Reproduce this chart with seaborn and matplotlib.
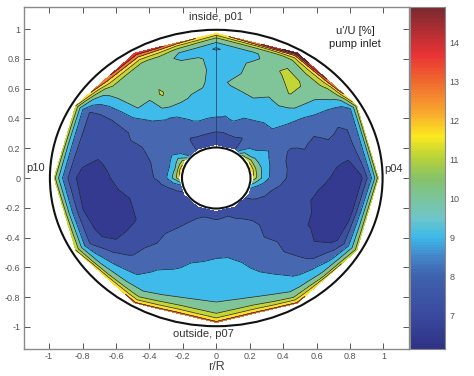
import numpy as np
import matplotlib
matplotlib.use("Agg")
import matplotlib.pyplot as plt
from matplotlib.patches import Circle
from matplotlib.colors import ListedColormap, BoundaryNorm, LinearSegmentedColormap
import seaborn as sns

sns.set_style("white")
plt.rcParams['font.family'] = ['Liberation Sans', 'DejaVu Sans']
plt.rcParams['axes.unicode_minus'] = False

# radial stations (vertex radius) and u'/U readings per ray, clockwise from top
rings = [.225, .26, .30, .35, .42, .50, .58, .66, .74, .82, .87, .90, .925, .95, .97]
ray_000 = [7.2, 7.2, 7.4, 7.9, 8.6, 8.8, 9.0, 9.1, 9.1, 9.2, 8.3, 9.3, 9.8, 10.9, 11.9]
ray_008 = [7.2, 7.2, 7.35, 7.8, 8.45, 8.8, 9.1, 9.6, 9.2, 9.2, 9.2, 9.35, 9.9, 11.0, 12.4]
ray_015 = [7.2, 7.3, 7.4, 8.0, 8.6, 9.0, 9.3, 9.7, 9.7, 9.6, 9.3, 9.4, 10.0, 11.2, 13.0]
ray_022 = [7.3, 7.4, 7.45, 8.1, 8.3, 8.9, 9.4, 9.9, 10.0, 9.8, 9.8, 9.8, 10.2, 11.6, 14.0]
ray_030 = [7.4, 7.4, 7.45, 7.7, 8.4, 8.7, 9.2, 9.7, 10.0, 10.8, 10.3, 10.2, 10.8, 12.4, 14.8]
ray_038 = [8.8, 8.1, 8.0, 8.0, 8.2, 8.6, 9.2, 9.7, 10.6, 10.7, 10.2, 10.4, 10.9, 12.0, 14.0]
ray_045 = [10.5, 9.0, 8.4, 8.0, 8.0, 8.6, 9.0, 9.4, 9.7, 9.9, 10.1, 10.3, 10.8, 11.6, 13.2]
ray_052 = [10.8, 9.2, 8.6, 8.2, 8.0, 8.0, 8.2, 8.4, 8.7, 9.0, 9.4, 9.6, 10.0, 11.0, 12.4]
ray_060 = [11.2, 9.6, 9.0, 8.6, 8.0, 7.9, 7.9, 7.8, 7.8, 7.7, 7.7, 7.9, 8.4, 9.6, 10.9]
ray_068 = [11.6, 9.9, 9.1, 8.5, 7.7, 7.4, 7.6, 7.3, 7.6, 7.4, 7.5, 7.8, 8.4, 9.5, 10.9]
ray_075 = [11.8, 10.2, 9.2, 8.4, 7.6, 7.3, 7.3, 7.2, 7.1, 7.2, 7.4, 7.8, 8.4, 9.5, 10.9]
ray_082 = [11.6, 10.0, 9.0, 8.2, 7.6, 7.2, 7.35, 7.05, 6.95, 6.85, 7.1, 7.6, 8.4, 9.5, 10.9]
ray_090 = [11.0, 9.8, 8.8, 7.9, 7.5, 7.2, 7.1, 6.95, 6.75, 6.7, 6.85, 7.4, 8.3, 9.6, 10.9]
ray_098 = [10.0, 9.0, 8.3, 7.7, 7.4, 7.2, 7.0, 6.85, 6.72, 6.65, 6.8, 7.45, 8.4, 9.7, 10.9]
ray_105 = [8.8, 8.2, 7.8, 7.5, 7.3, 7.1, 6.95, 6.8, 6.7, 6.6, 6.8, 7.5, 8.5, 9.8, 10.9]
ray_112 = [8.2, 7.8, 7.6, 7.4, 7.25, 7.1, 7.0, 6.85, 6.72, 6.65, 6.95, 7.7, 8.7, 9.9, 10.9]
ray_120 = [7.8, 7.6, 7.4, 7.3, 7.2, 7.1, 7.0, 6.85, 6.7, 6.75, 7.2, 7.9, 9.0, 10.0, 10.9]
ray_128 = [7.5, 7.4, 7.35, 7.3, 7.2, 7.2, 7.1, 7.3, 6.95, 7.2, 7.7, 8.3, 9.2, 10.1, 11.3]
ray_135 = [7.3, 7.3, 7.3, 7.3, 7.2, 7.2, 7.2, 7.2, 7.3, 7.6, 8.4, 8.9, 9.4, 10.3, 11.6]
ray_142 = [7.35, 7.35, 7.4, 7.45, 7.6, 7.4, 7.7, 7.6, 8.0, 8.3, 8.8, 9.3, 10.0, 10.9, 12.0]
ray_150 = [7.4, 7.4, 7.45, 7.6, 7.8, 7.9, 8.0, 8.2, 8.45, 8.9, 9.3, 9.8, 10.5, 11.5, 12.4]
ray_158 = [7.4, 7.4, 7.5, 7.7, 7.9, 8.1, 8.3, 8.3, 8.7, 9.0, 9.5, 10.0, 10.6, 11.5, 12.4]
ray_165 = [7.4, 7.45, 7.6, 7.8, 8.0, 8.2, 8.4, 8.7, 8.9, 9.2, 9.6, 10.2, 10.8, 11.6, 12.5]
ray_172 = [7.3, 7.4, 7.6, 7.8, 8.1, 8.3, 8.6, 8.7, 9.0, 9.3, 9.7, 10.25, 10.85, 11.6, 12.5]
ray_180 = [7.3, 7.4, 7.6, 7.9, 8.1, 8.4, 8.6, 8.8, 9.0, 9.4, 9.8, 10.3, 10.9, 11.6, 12.5]
ray_188 = [7.3, 7.4, 7.6, 7.8, 8.0, 8.35, 8.5, 8.8, 8.95, 9.3, 9.7, 10.25, 10.85, 11.6, 12.5]
ray_195 = [7.3, 7.4, 7.6, 7.8, 8.0, 8.2, 8.4, 8.65, 8.9, 9.2, 9.6, 10.2, 10.8, 11.6, 12.5]
ray_202 = [7.35, 7.4, 7.5, 7.65, 7.9, 8.0, 8.35, 8.4, 8.8, 9.0, 9.5, 10.0, 10.7, 11.5, 12.4]
ray_210 = [7.4, 7.4, 7.45, 7.5, 7.7, 7.9, 8.1, 8.3, 8.6, 8.9, 9.4, 9.9, 10.6, 11.5, 12.4]
ray_218 = [7.3, 7.3, 7.3, 7.4, 7.4, 7.6, 7.55, 7.9, 8.0, 8.4, 8.95, 9.5, 10.1, 11.1, 12.1]
ray_225 = [7.2, 7.2, 7.2, 7.2, 7.2, 7.2, 7.3, 7.3, 7.4, 7.8, 8.6, 9.2, 9.7, 10.7, 11.9]
ray_232 = [7.25, 7.2, 7.15, 7.15, 7.1, 7.1, 7.1, 7.05, 7.0, 7.45, 8.1, 8.7, 9.4, 10.5, 11.7]
ray_240 = [7.3, 7.2, 7.1, 7.1, 7.0, 7.0, 6.85, 6.75, 6.75, 7.0, 7.4, 8.1, 9.2, 10.4, 11.3]
ray_248 = [7.6, 7.4, 7.25, 7.15, 7.05, 7.0, 6.85, 6.72, 6.7, 6.85, 7.2, 7.9, 8.9, 10.1, 11.1]
ray_255 = [8.0, 7.7, 7.4, 7.2, 7.1, 7.0, 6.85, 6.7, 6.65, 6.7, 7.0, 7.7, 8.6, 9.8, 11.0]
ray_262 = [9.5, 8.6, 7.9, 7.4, 7.2, 7.05, 6.95, 6.8, 6.7, 6.75, 7.05, 7.75, 8.65, 9.8, 10.9]
ray_270 = [11.0, 9.6, 8.4, 7.6, 7.3, 7.1, 7.0, 6.85, 6.75, 6.8, 7.1, 7.8, 8.7, 9.8, 10.9]
ray_278 = [11.5, 9.7, 8.5, 7.7, 7.4, 7.15, 7.05, 6.95, 6.85, 6.95, 7.2, 7.8, 8.65, 9.75, 10.9]
ray_285 = [11.8, 9.6, 8.5, 7.8, 7.5, 7.2, 7.1, 7.0, 7.0, 7.1, 7.3, 7.8, 8.6, 9.7, 11.0]
ray_292 = [11.4, 9.7, 8.6, 7.75, 7.6, 7.45, 7.45, 7.1, 7.45, 7.2, 7.35, 7.85, 8.6, 9.8, 11.1]
ray_300 = [10.8, 9.6, 8.6, 7.8, 7.7, 7.6, 7.55, 7.4, 7.2, 7.2, 7.4, 7.9, 8.6, 10.0, 11.3]
ray_308 = [9.6, 8.7, 8.2, 7.8, 7.8, 7.8, 8.0, 8.25, 8.4, 8.6, 8.9, 9.2, 9.8, 11.0, 12.2]
ray_315 = [8.0, 7.8, 7.8, 7.8, 7.9, 8.2, 8.6, 9.4, 9.7, 10.0, 10.2, 10.4, 11.0, 12.0, 13.0]
ray_322 = [7.8, 7.75, 7.7, 7.8, 8.2, 8.45, 9.2, 9.4, 10.0, 10.0, 10.2, 10.5, 11.3, 12.4, 13.6]
ray_330 = [7.4, 7.4, 7.45, 7.7, 8.3, 8.6, 10.0, 10.7, 10.1, 10.0, 10.2, 10.6, 11.6, 12.8, 14.0]
ray_338 = [7.3, 7.3, 7.45, 7.8, 8.45, 8.7, 9.7, 9.6, 10.4, 9.9, 9.9, 10.3, 11.0, 12.2, 13.6]
ray_345 = [7.3, 7.3, 7.4, 7.9, 8.6, 8.9, 9.4, 9.8, 9.9, 9.7, 9.3, 9.5, 10.3, 11.3, 12.6]
ray_352 = [7.25, 7.25, 7.4, 7.85, 8.55, 8.85, 9.35, 9.6, 9.75, 9.6, 9.3, 9.4, 10.0, 11.1, 12.2]
rays = [ray_000, ray_008, ray_015, ray_022, ray_030, ray_038, ray_045, ray_052,
        ray_060, ray_068, ray_075, ray_082, ray_090, ray_098, ray_105, ray_112,
        ray_120, ray_128, ray_135, ray_142, ray_150, ray_158, ray_165, ray_172,
        ray_180, ray_188, ray_195, ray_202, ray_210, ray_218, ray_225, ray_232,
        ray_240, ray_248, ray_255, ray_262, ray_270, ray_278, ray_285, ray_292,
        ray_300, ray_308, ray_315, ray_322, ray_330, ray_338, ray_345, ray_352]
ray_angles = [7.5 * i for i in range(49)]

band_edges = [6.0, 6.9, 7.5, 8.5, 9.5, 10.5, 11.3, 12.2, 13.2, 14.2, 15.0]
band_colors = ['#343a90', '#3d4fa1', '#4767b1', '#3ebbea', '#80c49a', '#c3d638',
               '#fde02b', '#f47b2b', '#e8392f', '#8e2a2e']
bar_anchors = [(6.15, '#2f3285'), (7.0, '#3a4a9e'), (8.0, '#3f62ad'), (8.5, '#4585c8'),
               (9.0, '#3db9ea'), (9.5, '#6fc6c8'), (10.0, '#7cc49c'), (10.5, '#85c26a'),
               (11.0, '#b3d03c'), (11.6, '#fbe91f'), (12.2, '#f9a92e'), (13.0, '#ef6a2e'),
               (13.7, '#ea3236'), (14.9, '#7a2a2f')]
tick_vals = [-1, -.8, -.6, -.4, -.2, 0, .2, .4, .6, .8, 1]
tick_labels = ['-1', '-0.8', '-0.6', '-0.4', '-0.2', '0', '0.2', '0.4', '0.6', '0.8', '1']
bar_ticks = [7, 8, 9, 10, 11, 12, 13, 14]

fig = plt.figure(figsize=(4.74, 3.76), dpi=100)
ax = fig.add_axes([24 / 474, 27 / 376, 384.5 / 474, 342 / 376])
cax = fig.add_axes([410 / 474, 27 / 376, 35 / 474, 342 / 376])

vals = np.array(rays + [rays[0]]).T
deg = np.array(ray_angles)
th = np.deg2rad(deg)
# the measuring ring is a 12-sided polygon: rays between vertices end on its chords
flat = np.cos(np.deg2rad(15)) / np.cos(np.deg2rad(deg % 30 - 15))
R = np.outer(rings, flat)
X = R * np.sin(th)
Y = R * np.cos(th)

ax.contourf(X, Y, vals, levels=band_edges,
            cmap=ListedColormap(band_colors), norm=BoundaryNorm(band_edges, 10))
ax.contour(X, Y, vals, levels=band_edges[1:-1], colors='#1a2030', linewidths=0.5)
ax.plot([0, 0], [.21, .96], color='#1a3a60', lw=0.5)
ax.add_patch(Circle((0, 0), 0.995, fill=False, ec='#111111', lw=1.5))
ax.add_patch(Circle((0, 0), 0.205, fc='white', ec='#111111', lw=1.5, zorder=4))

ax.set_xlim(-1.15, 1.15)
ax.set_ylim(-1.148, 1.148)
ax.set_xticks(tick_vals, tick_labels)
ax.set_yticks(tick_vals, tick_labels)
ax.tick_params(direction='in', length=4, width=0.7, color='#555555', labelcolor='#555555',
               labelsize=6.5, top=True, right=True, bottom=True, left=True, pad=2.5)
for s in ax.spines.values():
    s.set_color('#8a8a8a')
    s.set_linewidth(1.0)
ax.text(0, 1.08, 'inside, p01', ha='center', va='center', fontsize=8, color='#333333')
ax.text(-0.08, -1.05, 'outside, p07', ha='center', va='center', fontsize=8, color='#333333')
ax.text(-1.08, 0.07, 'p10', ha='center', va='center', fontsize=8, color='#333333')
ax.text(1.06, 0.06, 'p04', ha='center', va='center', fontsize=8, color='#333333')
ax.text(0.83, 0.99, "u'/U [%]", ha='center', va='center', fontsize=8, color='#222222')
ax.text(0.83, 0.90, 'pump inlet', ha='center', va='center', fontsize=8, color='#222222')
ax.set_xlabel('r/R', fontsize=9, color='#444444', labelpad=-0.5)

lo, hi = bar_anchors[0][0], bar_anchors[-1][0]
bar_cmap = LinearSegmentedColormap.from_list(
    'bar', [((v - lo) / (hi - lo), c) for v, c in bar_anchors], N=128)
n = 256
grid = np.linspace(hi, lo, n).reshape(-1, 1)
sns.heatmap(grid, cmap=bar_cmap, vmin=lo, vmax=hi, cbar=False, ax=cax,
            xticklabels=False, yticklabels=False)
cax.set_yticks([(hi - t) / (hi - lo) * n for t in bar_ticks])
cax.set_yticklabels([str(t) for t in bar_ticks], rotation=0)
cax.tick_params(axis='y', direction='in', length=3, width=0.7, color='#444444',
                labelcolor='#555555', labelsize=6.5, left=True, right=True,
                labelleft=False, labelright=True, pad=3)
for s in cax.spines.values():
    s.set_visible(True)
    s.set_color('#8a8a8a')
    s.set_linewidth(0.8)

fig.savefig('out.png', dpi=100)
